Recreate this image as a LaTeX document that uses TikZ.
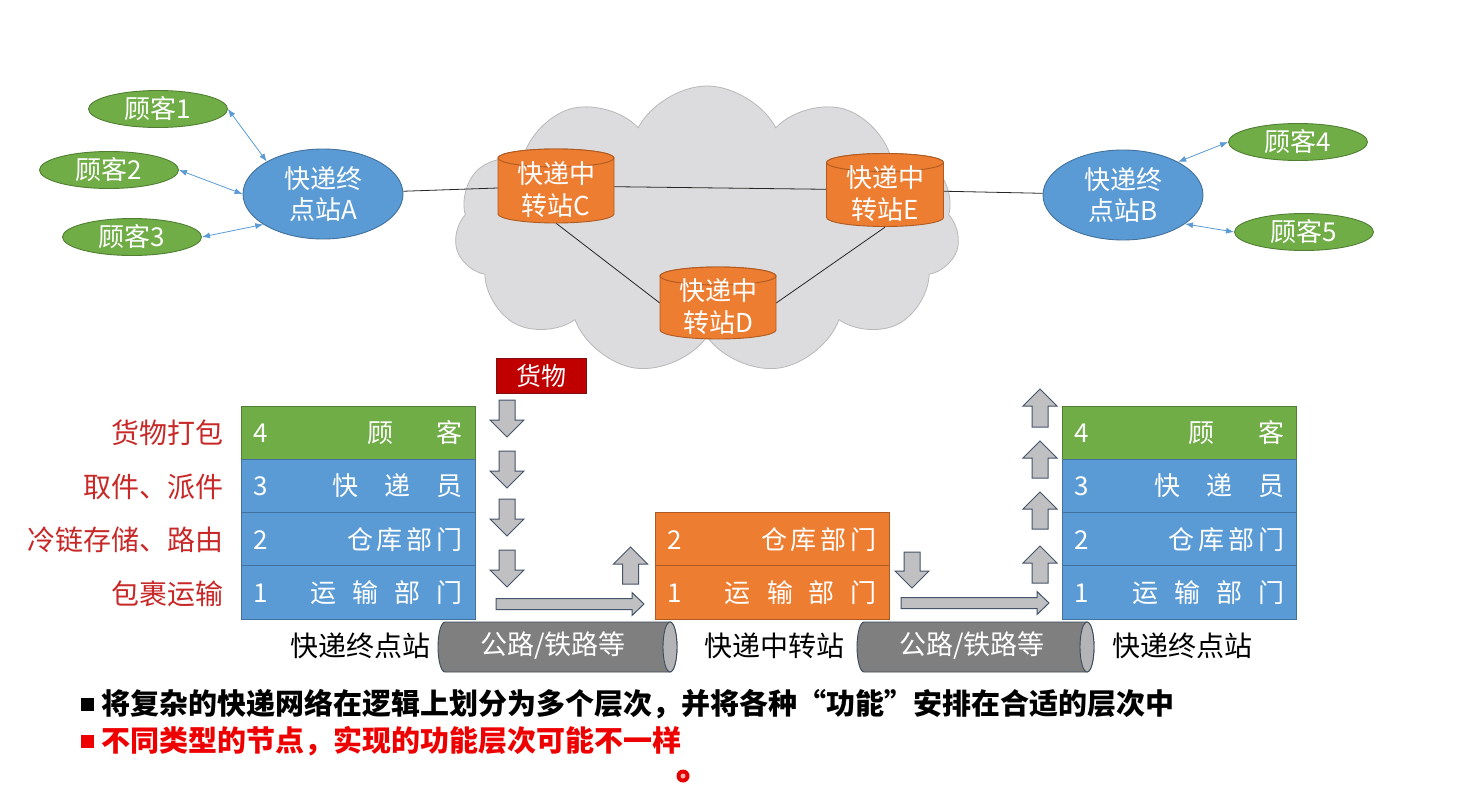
\documentclass[tikz,border=0pt]{standalone}
\usepackage{fontspec}
\setmainfont{Noto Sans CJK SC}
\usetikzlibrary{shapes.geometric,shapes.symbols,arrows.meta}
\definecolor{cgreen}{HTML}{70AD47}
\definecolor{cgreenD}{HTML}{507E32}
\definecolor{cblue}{HTML}{5B9BD5}
\definecolor{cblueD}{HTML}{41719C}
\definecolor{corange}{HTML}{ED7D31}
\definecolor{corangeD}{HTML}{AE5A21}
\definecolor{ccloud}{HTML}{DCDCDE}
\definecolor{ccloudD}{HTML}{B8B8B8}
\definecolor{cgarrow}{HTML}{C0C0C2}
\definecolor{cgarrowD}{HTML}{44546A}
\definecolor{cpipe}{HTML}{7F7F7F}
\definecolor{cpipeE}{HTML}{B4B4B6}
\definecolor{cpipeD}{HTML}{3A4A5A}
\definecolor{cgoods}{HTML}{C00000}
\definecolor{cgoodsD}{HTML}{7F1010}
\definecolor{clab}{HTML}{C82828}
\definecolor{cred}{HTML}{EE0000}
\newcommand\myfs[2]{\fontsize{#1}{#2}\selectfont}
\newcommand\drawcyl[4]{%
  \filldraw[cylstyle] ({#1-#3/2},{#2-#4/2+9}) -- ({#1-#3/2},{#2+#4/2-9})
    arc[start angle=180,end angle=0,x radius={#3/2},y radius=9]
    -- ({#1+#3/2},{#2-#4/2+9})
    arc[start angle=0,end angle=-180,x radius={#3/2},y radius=9] -- cycle;
  \draw[cylstyle] (#1,{#2-#4/2+9}) ellipse[x radius={#3/2}, y radius=9];
}
\newcommand\drawpipe[3]{%
  \filldraw[pipestyle] ({#1+7},{#3-25}) -- ({#2-7},{#3-25})
    arc[start angle=-90,end angle=90,x radius=7,y radius=25]
    -- ({#1+7},{#3+25})
    arc[start angle=90,end angle=270,x radius=7,y radius=25] -- cycle;
  \filldraw[pipeend] ({#2-7},#3) ellipse[x radius=7, y radius=25];
}
\newcommand\blkarrow[7]{%
  \begin{scope}[shift={(#1,#2)},rotate=#3]
    \filldraw[garrow] (0,-#5) -- ({#4-#7},-#5) -- ({#4-#7},-#6) -- (#4,0)
      -- ({#4-#7},#6) -- ({#4-#7},#5) -- (0,#5) -- cycle;
  \end{scope}
}
\tikzset{
  cylstyle/.style={fill=corange, draw=corangeD, line width=0.9pt},
  pipestyle/.style={fill=cpipe, draw=cpipeD, line width=0.9pt},
  pipeend/.style={fill=cpipeE, draw=cpipeD, line width=0.9pt},
  garrow/.style={fill=cgarrow, draw=cgarrowD, line width=1pt, line join=miter},
  cust/.style={ellipse, fill=cgreen, draw=cgreenD, line width=0.9pt, text=white,
    minimum width=139pt, minimum height=37pt, inner sep=0pt, font=\myfs{26}{30}},
  station/.style={ellipse, fill=cblue, draw=cblueD, line width=0.9pt, text=white,
    minimum width=160pt, minimum height=90pt, inner sep=0pt, align=center,
    font=\myfs{26}{31}},
  cylbox/.style={rectangle, minimum width=116pt, minimum height=74pt, inner sep=0pt},
  cyltext/.style={text=white, align=center, inner sep=0pt, font=\myfs{26}{32}},
  custarrow/.style={{Latex[length=8pt,width=6pt]}-{Latex[length=8pt,width=6pt]},
    draw=cblue, line width=0.8pt},
  link/.style={draw=black!85, line width=0.8pt},
  layer/.style={rectangle, minimum width=234pt, minimum height=53.3pt, inner sep=0pt,
    text=white, line width=1pt, font=\myfs{26}{30}},
  lgreen/.style={layer, fill=cgreen, draw=cgreenD},
  lblue/.style={layer, fill=cblue, draw=cblueD},
  lorange/.style={layer, fill=corange, draw=corangeD},
  redlab/.style={anchor=east, text=clab, inner sep=0pt, font=\myfs{28}{32}},
  blklab/.style={text=black, inner sep=0pt, font=\myfs{28}{32}},
  pipetext/.style={text=white, inner sep=0pt, font=\myfs{27}{32}},
  bullet/.style={rectangle, minimum size=13pt, inner sep=0pt},
  bultext/.style={anchor=west, inner sep=0pt, font=\bfseries\myfs{29}{34}},
}
\newcommand\Lfour{\makebox[210pt]{4\hfill 顾\hspace{44pt}客}}
\newcommand\Lthree{\makebox[210pt]{3\hfill 快\hspace{26pt}递\hspace{26pt}员}}
\newcommand\Ltwo{\makebox[210pt]{2\hfill 仓\hspace{4pt}库\hspace{4pt}部\hspace{4pt}门}}
\newcommand\Lone{\makebox[210pt]{1\hfill 运\hspace{16pt}输\hspace{16pt}部\hspace{16pt}门}}
\begin{document}
\begin{tikzpicture}[x=1pt,y=-1pt]
\useasboundingbox (0,0) rectangle (1462,789);
\fill[white] (0,0) rectangle (1462,789);

% cloud
\node[cloud, cloud puffs=11, cloud puff arc=125, aspect=1.8, draw=ccloudD, fill=ccloud,
  line width=0.8pt, minimum width=505pt, minimum height=288pt, inner sep=0pt] (cloud) at (707,230) {};

% hub boxes (for connections)
\node[cylbox] (C) at (556,186) {};
\node[cylbox] (E) at (885,190) {};
\node[cylbox] (D) at (718,303) {};

% stations and customers
\node[station] (A) at (323,194) {快递终\\点站A};
\node[station] (B) at (1123,195) {快递终\\点站B};
\node[cust] (c1) at (158,109) {顾客1};
\node[cust] (c2) at (109,170) {顾客2};
\node[cust] (c3) at (132,237) {顾客3};
\node[cust] (c4) at (1298,142) {顾客4};
\node[cust] (c5) at (1304,232) {顾客5};

\draw[custarrow] (c1.east) -- (A.150);
\draw[custarrow] (c2.east) -- (A.180);
\draw[custarrow] (c3.east) -- (A.207);
\draw[custarrow] (B.31) -- (c4.west);
\draw[custarrow] (B.-25) -- (c5.west);

% links
\draw[link] (A) -- (C);
\draw[link] (C) -- (E);
\draw[link] (E) -- (B);
\draw[link] (C.south) -- (D.west);
\draw[link] (D.east) -- (E.south);

% cylinders
\drawcyl{556}{186}{116}{74}
\drawcyl{885}{190}{117}{73}
\drawcyl{718}{303}{116}{72}
\node[cyltext] (Ct) at (556,190) {快递中\\转站C};
\node[cyltext] (Et) at (885,194) {快递中\\转站E};
\node[cyltext] (Dt) at (718,307) {快递中\\转站D};

% goods
\node[rectangle, fill=cgoods, draw=cgoodsD, line width=0.9pt, minimum width=90pt,
  minimum height=35pt, inner sep=0pt, text=white, font=\myfs{25}{30}] (goods) at (541,376) {货物};

% left stack
\node[lgreen] (L4) at (358,432.7) {\Lfour};
\node[lblue]  (L3) at (358,486.0) {\Lthree};
\node[lblue]  (L2) at (358,539.3) {\Ltwo};
\node[lblue]  (L1) at (358,592.6) {\Lone};
% middle stack
\node[lorange] (M2) at (772,539.3) {\Ltwo};
\node[lorange] (M1) at (772,592.6) {\Lone};
% right stack
\node[lgreen] (R4) at (1179.5,432.7) {\Lfour};
\node[lblue]  (R3) at (1179.5,486.0) {\Lthree};
\node[lblue]  (R2) at (1179.5,539.3) {\Ltwo};
\node[lblue]  (R1) at (1179.5,592.6) {\Lone};

% red function labels
\node[redlab] (f4) at (224,433) {货物打包};
\node[redlab] (f3) at (224,487) {取件、派件};
\node[redlab] (f2) at (224,540) {冷链存储、路由};
\node[redlab] (f1) at (224,594) {包裹运输};

% block arrows
\blkarrow{507}{400}{-90}{37}{8}{17}{17}
\blkarrow{507}{451}{-90}{37}{8}{17}{17}
\blkarrow{507}{499}{-90}{37}{8}{17}{17}
\blkarrow{507}{550}{-90}{37}{8}{17}{17}
\blkarrow{496}{604}{0}{148}{5.5}{11.5}{12}
\blkarrow{630.5}{584}{90}{37}{8}{17}{17}
\blkarrow{912}{552}{-90}{36}{8}{17}{17}
\blkarrow{901}{603}{0}{148}{5.5}{11.5}{12}
\blkarrow{1040}{583}{90}{37}{8}{17}{17}
\blkarrow{1040}{529}{90}{37}{8}{17}{17}
\blkarrow{1040}{478}{90}{37}{8}{17}{17}
\blkarrow{1040}{427}{90}{38}{8}{17}{17}

% pipes
\drawpipe{438}{677}{647}
\drawpipe{857}{1094}{647}
\node[pipetext] (p1) at (553,646) {公路/铁路等};
\node[pipetext] (p2) at (972,646) {公路/铁路等};

% station labels
\node[blklab] (t1) at (360,646) {快递终点站};
\node[blklab] (t2) at (774,646) {快递中转站};
\node[blklab] (t3) at (1182,646) {快递终点站};

% bullets
\node[bullet, fill=black] (s1) at (87,704) {};
\node[bultext, text=black] (b1) at (101,704) {将复杂的快递网络在逻辑上划分为多个层次，并将各种“功能”安排在合适的层次中};
\node[bullet, fill=cred] (s2) at (87,741) {};
\node[bultext, text=cred] (b2) at (101,741) {不同类型的节点，实现的功能层次可能不一样};

% pointer dot
\fill[red!90!black] (683,776) circle[radius=6.5];
\fill[red!30!white] (683,776) circle[radius=2.5];
\end{tikzpicture}
\end{document}
